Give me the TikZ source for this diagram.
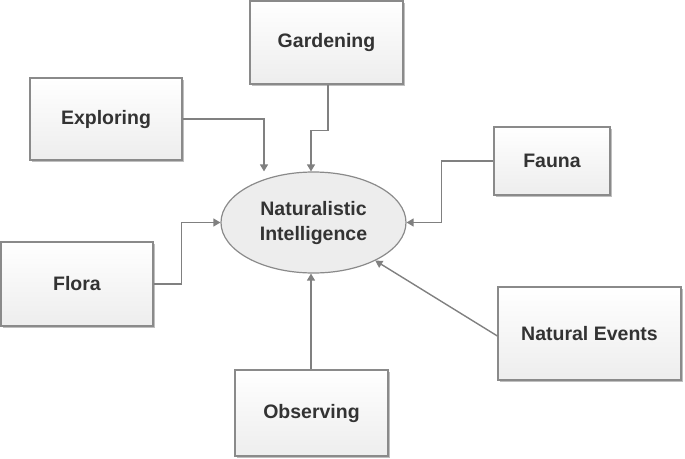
\documentclass[tikz,border=0pt]{standalone}
\usepackage{fontspec}
\setmainfont{Liberation Sans}
\usetikzlibrary{arrows.meta,shapes.geometric,shadows}
\definecolor{txt}{HTML}{333333}
\definecolor{edge}{HTML}{8A8A8A}
\definecolor{conn}{HTML}{808080}
\begin{document}
\begin{tikzpicture}[x=1pt,y=-1pt,
  lbl/.style={font=\fontsize{19.5}{25}\selectfont\bfseries, text=txt, align=center},
  box/.style={lbl, draw=edge, line width=1.2pt, rectangle, inner sep=0pt,
    top color=white, bottom color=black!7,
    drop shadow={shadow xshift=1.5pt, shadow yshift=-1.5pt, opacity=0.25, fill=black}},
  hub/.style={lbl, draw=edge, line width=1.2pt, ellipse, inner sep=0pt, fill=black!7},
  link/.style={draw=conn, line width=1.4pt, -{Triangle[length=7pt,width=8pt]}}
]
\useasboundingbox (0,0) rectangle (685,458);
\node[box, minimum width=153pt, minimum height=83pt] (gard) at (326.5,42.5) {Gardening};
\node[box, minimum width=152pt, minimum height=82pt] (expl) at (106,119) {Exploring};
\node[box, minimum width=116pt, minimum height=68pt] (fauna) at (552,161) {Fauna};
\node[box, minimum width=152pt, minimum height=84pt] (flora) at (77,284) {Flora};
\node[box, minimum width=183pt, minimum height=93pt] (nat) at (589.5,333.5) {Natural Events};
\node[box, minimum width=153pt, minimum height=86pt] (obs) at (311.5,413) {Observing};
\node[hub, minimum width=185pt, minimum height=101pt] (ell) at (313.5,222.5) {Naturalistic\\Intelligence};

\draw[link] ([xshift=1.5pt]gard.south) -- ++(0,46) -| ([xshift=-2.5pt]ell.north);
\draw[link] (expl.east) -| ([xshift=-49.5pt]ell.north);
\draw[link] (fauna.west) -- ++(-52,0) |- (ell.east);
\draw[link] (flora.east) -- ++(28,0) |- (ell.west);
\draw[link] ([yshift=-2.5pt]nat.west) -- (ell);
\draw[link] ([xshift=-0.5pt]obs.north) -- ([xshift=-2.5pt]ell.south);
\end{tikzpicture}
\end{document}
